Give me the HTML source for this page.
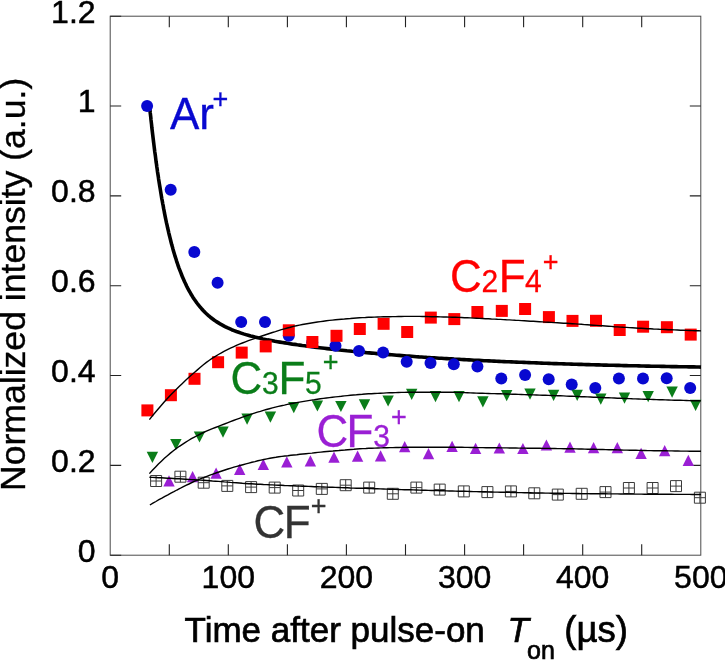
<!DOCTYPE html>
<html><head><meta charset="utf-8"><title>Normalized intensity vs time after pulse-on</title>
<style>html,body{margin:0;padding:0;background:#fff}svg{display:block}text{font-family:"Liberation Sans",Arial,Helvetica,sans-serif}</style></head><body>
<svg width="725" height="660" viewBox="0 0 725 660">
<rect width="725" height="660" fill="#fff"/>
<rect x="110.2" y="16.2" width="590.6" height="539.0" fill="none" stroke="#4a4a4a" stroke-width="1"/>
<g stroke="#222" stroke-width="1.1" fill="none">
<path d="M169.3,555.2v-11M169.3,16.2v11M228.3,555.2v-11M228.3,16.2v11M287.4,555.2v-11M287.4,16.2v11M346.4,555.2v-11M346.4,16.2v11M405.5,555.2v-11M405.5,16.2v11M464.6,555.2v-11M464.6,16.2v11M523.6,555.2v-11M523.6,16.2v11M582.7,555.2v-11M582.7,16.2v11M641.7,555.2v-11M641.7,16.2v11M110.2,465.4h11M700.8,465.4h-11M110.2,375.5h11M700.8,375.5h-11M110.2,285.7h11M700.8,285.7h-11M110.2,195.9h11M700.8,195.9h-11M110.2,106.0h11M700.8,106.0h-11M110.2,16.2h11M110.2,555.2h11"/>
</g>
<path d="M149.2,102.6 L149.5,105.1 L149.7,107.6 L150.0,110.0 L150.2,112.5 L150.5,115.0 L150.8,117.5 L151.0,119.9 L151.3,122.4 L151.6,124.9 L151.8,127.3 L152.1,129.8 L152.4,132.3 L152.7,134.8 L153.0,137.2 L153.3,139.7 L153.6,142.2 L153.9,144.6 L154.2,147.1 L154.5,149.5 L154.8,152.0 L155.2,154.5 L155.5,156.9 L155.8,159.4 L156.1,161.9 L156.5,164.3 L156.8,166.8 L157.2,169.2 L157.5,171.7 L157.9,174.1 L158.3,176.6 L158.6,179.0 L159.0,181.5 L159.4,184.0 L159.8,186.4 L160.2,188.8 L160.6,191.3 L161.0,193.7 L161.4,196.2 L161.8,198.6 L162.3,201.1 L162.7,203.5 L163.2,205.9 L163.6,208.4 L164.1,210.8 L164.5,213.2 L165.0,215.7 L165.5,218.1 L166.0,220.5 L166.5,222.9 L167.1,225.4 L167.6,227.8 L168.2,230.2 L168.7,232.6 L169.3,235.0 L169.9,237.4 L170.5,239.8 L171.1,242.2 L171.7,244.6 L172.4,246.9 L173.0,249.3 L173.7,251.7 L174.4,254.1 L175.1,256.4 L175.9,258.8 L176.6,261.1 L177.4,263.5 L178.2,265.8 L179.0,268.1 L179.9,270.4 L180.8,272.7 L181.7,275.0 L182.6,277.3 L183.6,279.5 L184.6,281.8 L185.7,284.0 L186.7,286.2 L187.8,288.4 L189.0,290.6 L190.2,292.7 L191.4,294.8 L192.7,296.9 L194.1,299.0 L195.5,301.0 L196.9,303.0 L198.4,304.9 L200.0,306.8 L201.6,308.7 L203.2,310.5 L204.9,312.3 L206.7,314.0 L208.5,315.6 L210.4,317.2 L212.4,318.7 L214.4,320.2 L216.4,321.6 L218.5,322.9 L220.6,324.2 L222.8,325.4 L225.0,326.6 L227.2,327.7 L229.5,328.7 L231.7,329.7 L234.0,330.6 L236.4,331.5 L238.7,332.3 L241.1,333.1 L243.5,333.9 L245.8,334.6 L248.2,335.3 L250.6,336.0 L253.1,336.6 L255.5,337.2 L257.9,337.8 L260.4,338.3 L262.8,338.9 L265.2,339.4 L267.7,339.9 L270.1,340.3 L272.6,340.8 L275.0,341.3 L277.5,341.7 L280.0,342.1 L282.4,342.5 L284.9,342.9 L287.4,343.3 L289.8,343.7 L292.3,344.1 L294.8,344.4 L297.3,344.8 L299.7,345.1 L302.2,345.5 L304.7,345.8 L307.2,346.2 L309.6,346.5 L312.1,346.8 L314.6,347.1 L317.1,347.4 L319.6,347.7 L322.0,348.0 L324.5,348.3 L327.0,348.6 L329.5,348.9 L332.0,349.2 L334.5,349.4 L337.0,349.7 L339.4,350.0 L341.9,350.2 L344.4,350.5 L346.9,350.8 L349.4,351.0 L351.9,351.3 L354.4,351.5 L356.8,351.7 L359.3,352.0 L361.8,352.2 L364.3,352.4 L366.8,352.7 L369.3,352.9 L371.8,353.1 L374.3,353.3 L376.8,353.6 L379.3,353.8 L381.7,354.0 L384.2,354.2 L386.7,354.4 L389.2,354.6 L391.7,354.8 L394.2,355.0 L396.7,355.2 L399.2,355.4 L401.7,355.6 L404.2,355.8 L406.7,356.0 L409.2,356.1 L411.6,356.3 L414.1,356.5 L416.6,356.7 L419.1,356.9 L421.6,357.0 L424.1,357.2 L426.6,357.4 L429.1,357.5 L431.6,357.7 L434.1,357.8 L436.6,358.0 L439.1,358.2 L441.6,358.3 L444.1,358.5 L446.6,358.6 L449.1,358.8 L451.6,358.9 L454.1,359.1 L456.6,359.2 L459.1,359.3 L461.5,359.5 L464.0,359.6 L466.5,359.8 L469.0,359.9 L471.5,360.0 L474.0,360.2 L476.5,360.3 L479.0,360.4 L481.5,360.5 L484.0,360.7 L486.5,360.8 L489.0,360.9 L491.5,361.0 L494.0,361.1 L496.5,361.3 L499.0,361.4 L501.5,361.5 L504.0,361.6 L506.5,361.7 L509.0,361.8 L511.5,361.9 L514.0,362.0 L516.5,362.1 L519.0,362.2 L521.5,362.3 L524.0,362.4 L526.5,362.5 L529.0,362.6 L531.5,362.7 L534.0,362.8 L536.5,362.9 L539.0,363.0 L541.5,363.1 L544.0,363.2 L546.5,363.3 L549.0,363.4 L551.5,363.5 L554.0,363.6 L556.5,363.6 L559.0,363.7 L561.5,363.8 L563.9,363.9 L566.4,364.0 L568.9,364.0 L571.4,364.1 L573.9,364.2 L576.4,364.3 L578.9,364.4 L581.4,364.4 L583.9,364.5 L586.4,364.6 L588.9,364.6 L591.4,364.7 L593.9,364.8 L596.4,364.9 L598.9,364.9 L601.4,365.0 L603.9,365.1 L606.4,365.1 L608.9,365.2 L611.4,365.3 L613.9,365.3 L616.4,365.4 L618.9,365.4 L621.4,365.5 L623.9,365.6 L626.4,365.6 L628.9,365.7 L631.4,365.7 L633.9,365.8 L636.4,365.8 L638.9,365.9 L641.4,366.0 L643.9,366.0 L646.4,366.1 L648.9,366.1 L651.4,366.2 L653.9,366.2 L656.4,366.3 L658.9,366.3 L661.4,366.4 L663.9,366.4 L666.4,366.5 L668.9,366.5 L671.4,366.6 L673.9,366.6 L676.4,366.6 L678.9,366.7 L681.4,366.7 L683.9,366.8 L686.4,366.8 L688.9,366.9 L691.4,366.9 L693.9,366.9 L696.4,367.0 L698.9,367.0 L701.0,367.1" fill="none" stroke="#000" stroke-width="3.6" stroke-linejoin="round"/>
<g fill="#0808d0">
<circle cx="147.1" cy="106.1" r="6"/>
<circle cx="170.7" cy="189.7" r="6"/>
<circle cx="194.3" cy="252" r="6"/>
<circle cx="217.6" cy="282.8" r="6"/>
<circle cx="241.2" cy="322.1" r="6"/>
<circle cx="265" cy="322.1" r="6"/>
<circle cx="288.8" cy="335.8" r="6"/>
<circle cx="312.2" cy="342.5" r="6"/>
<circle cx="335.5" cy="345.7" r="6"/>
<circle cx="359" cy="351.1" r="6"/>
<circle cx="383.1" cy="352.4" r="6"/>
<circle cx="406.7" cy="361.8" r="6"/>
<circle cx="430.5" cy="363" r="6"/>
<circle cx="453.8" cy="364.3" r="6"/>
<circle cx="477.4" cy="366.5" r="6"/>
<circle cx="501.3" cy="378.4" r="6"/>
<circle cx="525.1" cy="375" r="6"/>
<circle cx="548.7" cy="379.2" r="6"/>
<circle cx="571.7" cy="384.6" r="6"/>
<circle cx="595.3" cy="388" r="6"/>
<circle cx="618.9" cy="378.5" r="6"/>
<circle cx="643" cy="378.5" r="6"/>
<circle cx="666.7" cy="378.2" r="6"/>
<circle cx="690.2" cy="388" r="6"/>
</g>
<g fill="#ff0000">
<rect x="141.4" y="404.4" width="12" height="12"/>
<rect x="164.9" y="389.2" width="12" height="12"/>
<rect x="188.5" y="372.8" width="12" height="12"/>
<rect x="212.1" y="356.2" width="12" height="12"/>
<rect x="235.7" y="346.6" width="12" height="12"/>
<rect x="259.7" y="340.4" width="12" height="12"/>
<rect x="282.8" y="324.3" width="12" height="12"/>
<rect x="306.4" y="336.0" width="12" height="12"/>
<rect x="330.5" y="329.8" width="12" height="12"/>
<rect x="353.8" y="323.0" width="12" height="12"/>
<rect x="377.6" y="317.8" width="12" height="12"/>
<rect x="401.2" y="326.0" width="12" height="12"/>
<rect x="424.8" y="311.6" width="12" height="12"/>
<rect x="448.3" y="313.1" width="12" height="12"/>
<rect x="471.4" y="306.0" width="12" height="12"/>
<rect x="495.8" y="304.9" width="12" height="12"/>
<rect x="519.1" y="303.0" width="12" height="12"/>
<rect x="542.9" y="311.1" width="12" height="12"/>
<rect x="566.5" y="314.9" width="12" height="12"/>
<rect x="590.0" y="314.8" width="12" height="12"/>
<rect x="613.7" y="324.0" width="12" height="12"/>
<rect x="637.1" y="320.7" width="12" height="12"/>
<rect x="660.9" y="321.2" width="12" height="12"/>
<rect x="684.7" y="328.6" width="12" height="12"/>
</g>
<g fill="#0a7d19">
<path d="M146.7,451.7h11.4l-5.7,11.2z"/>
<path d="M170.2,438.9h11.4l-5.7,11.2z"/>
<path d="M193.8,431.4h11.4l-5.7,11.2z"/>
<path d="M217.3,426.5h11.4l-5.7,11.2z"/>
<path d="M241.4,413.5h11.4l-5.7,11.2z"/>
<path d="M264.7,411.5h11.4l-5.7,11.2z"/>
<path d="M288.1,402.1h11.4l-5.7,11.2z"/>
<path d="M311.7,400.4h11.4l-5.7,11.2z"/>
<path d="M335.2,400.9h11.4l-5.7,11.2z"/>
<path d="M358.8,399.2h11.4l-5.7,11.2z"/>
<path d="M382.4,395.4h11.4l-5.7,11.2z"/>
<path d="M406.0,388.7h11.4l-5.7,11.2z"/>
<path d="M429.8,391.0h11.4l-5.7,11.2z"/>
<path d="M453.3,391.0h11.4l-5.7,11.2z"/>
<path d="M477.2,396.2h11.4l-5.7,11.2z"/>
<path d="M501.0,390.0h11.4l-5.7,11.2z"/>
<path d="M524.3,388.5h11.4l-5.7,11.2z"/>
<path d="M547.9,389.7h11.4l-5.7,11.2z"/>
<path d="M571.5,389.7h11.4l-5.7,11.2z"/>
<path d="M595.1,393.5h11.4l-5.7,11.2z"/>
<path d="M618.8,392.5h11.4l-5.7,11.2z"/>
<path d="M642.5,391.0h11.4l-5.7,11.2z"/>
<path d="M666.4,386.6h11.4l-5.7,11.2z"/>
<path d="M689.9,399.7h11.4l-5.7,11.2z"/>
</g>
<g fill="#9a1fd4">
<path d="M163.3,486.5h11.4l-5.7,-11.2z"/>
<path d="M186.9,482.3h11.4l-5.7,-11.2z"/>
<path d="M210.4,478.7h11.4l-5.7,-11.2z"/>
<path d="M234.0,475.0h11.4l-5.7,-11.2z"/>
<path d="M257.6,470.0h11.4l-5.7,-11.2z"/>
<path d="M281.1,467.5h11.4l-5.7,-11.2z"/>
<path d="M304.7,466.5h11.4l-5.7,-11.2z"/>
<path d="M328.3,462.8h11.4l-5.7,-11.2z"/>
<path d="M351.9,461.8h11.4l-5.7,-11.2z"/>
<path d="M374.9,461.5h11.4l-5.7,-11.2z"/>
<path d="M399.0,452.3h11.4l-5.7,-11.2z"/>
<path d="M422.8,459.3h11.4l-5.7,-11.2z"/>
<path d="M446.4,451.9h11.4l-5.7,-11.2z"/>
<path d="M469.9,454.0h11.4l-5.7,-11.2z"/>
<path d="M493.6,453.6h11.4l-5.7,-11.2z"/>
<path d="M517.2,454.1h11.4l-5.7,-11.2z"/>
<path d="M540.7,450.6h11.4l-5.7,-11.2z"/>
<path d="M564.3,452.8h11.4l-5.7,-11.2z"/>
<path d="M587.9,453.2h11.4l-5.7,-11.2z"/>
<path d="M611.6,453.3h11.4l-5.7,-11.2z"/>
<path d="M635.4,459.0h11.4l-5.7,-11.2z"/>
<path d="M659.0,456.2h11.4l-5.7,-11.2z"/>
<path d="M682.6,465.9h11.4l-5.7,-11.2z"/>
</g>
<g fill="none" stroke="#3a3a3a" stroke-width="1">
<path d="M150.6,475.5h11v11h-11zM156.1,475.5v11M150.6,481.0h11"/>
<path d="M174.9,471.2h11v11h-11zM180.4,471.2v11M174.9,476.7h11"/>
<path d="M198.2,477.2h11v11h-11zM203.7,477.2v11M198.2,482.7h11"/>
<path d="M221.8,480.4h11v11h-11zM227.3,480.4v11M221.8,485.9h11"/>
<path d="M245.6,481.6h11v11h-11zM251.1,481.6v11M245.6,487.1h11"/>
<path d="M269.2,482.1h11v11h-11zM274.7,482.1v11M269.2,487.6h11"/>
<path d="M292.7,485.0h11v11h-11zM298.2,485.0v11M292.7,490.5h11"/>
<path d="M316.3,483.4h11v11h-11zM321.8,483.4v11M316.3,488.9h11"/>
<path d="M340.2,479.7h11v11h-11zM345.7,479.7v11M340.2,485.2h11"/>
<path d="M363.7,482.1h11v11h-11zM369.2,482.1v11M363.7,487.6h11"/>
<path d="M387.3,488.3h11v11h-11zM392.8,488.3v11M387.3,493.8h11"/>
<path d="M410.9,482.1h11v11h-11zM416.4,482.1v11M410.9,487.6h11"/>
<path d="M434.2,484.1h11v11h-11zM439.7,484.1v11M434.2,489.6h11"/>
<path d="M458.3,485.9h11v11h-11zM463.8,485.9v11M458.3,491.4h11"/>
<path d="M481.9,486.6h11v11h-11zM487.4,486.6v11M481.9,492.1h11"/>
<path d="M505.4,485.9h11v11h-11zM510.9,485.9v11M505.4,491.4h11"/>
<path d="M528.8,487.8h11v11h-11zM534.3,487.8v11M528.8,493.3h11"/>
<path d="M552.3,489.1h11v11h-11zM557.8,489.1v11M552.3,494.6h11"/>
<path d="M576.2,488.3h11v11h-11zM581.7,488.3v11M576.2,493.8h11"/>
<path d="M600.0,486.6h11v11h-11zM605.5,486.6v11M600.0,492.1h11"/>
<path d="M623.4,482.5h11v11h-11zM628.9,482.5v11M623.4,488.0h11"/>
<path d="M647.1,482.5h11v11h-11zM652.6,482.5v11M647.1,488.0h11"/>
<path d="M670.5,480.6h11v11h-11zM676.0,480.6v11M670.5,486.1h11"/>
<path d="M694.4,492.2h11v11h-11zM699.9,492.2v11M694.4,497.7h11"/>
</g>
<g fill="none" stroke="#000" stroke-width="1.4">
<path d="M149.4,419.6 L152.4,415.9 L155.4,412.2 L158.4,408.7 L161.4,405.2 L164.4,401.8 L167.4,398.5 L170.4,395.3 L173.4,392.2 L176.4,389.2 L179.4,386.2 L182.4,383.4 L185.4,380.5 L188.4,377.8 L191.4,375.1 L194.4,372.5 L197.4,369.9 L200.4,367.3 L203.4,364.8 L206.4,362.4 L209.4,360.2 L212.4,358.2 L215.4,356.3 L218.4,354.5 L221.4,352.8 L224.4,351.2 L227.4,349.6 L230.4,348.2 L233.4,346.8 L236.4,345.4 L239.4,344.2 L242.4,343.0 L245.4,341.8 L248.4,340.7 L251.4,339.6 L254.4,338.6 L257.4,337.5 L260.4,336.5 L263.4,335.5 L266.4,334.5 L269.4,333.5 L272.4,332.5 L275.4,331.6 L278.4,330.6 L281.4,329.7 L284.4,328.8 L287.4,328.0 L290.4,327.2 L293.4,326.4 L296.4,325.7 L299.4,325.1 L302.4,324.5 L305.4,324.0 L308.4,323.5 L311.4,323.0 L314.4,322.5 L317.4,322.0 L320.4,321.6 L323.4,321.2 L326.4,320.8 L329.4,320.4 L332.4,320.1 L335.4,319.8 L338.4,319.5 L341.4,319.2 L344.4,319.0 L347.4,318.7 L350.4,318.5 L353.4,318.2 L356.4,318.0 L359.4,317.8 L362.4,317.6 L365.4,317.5 L368.4,317.3 L371.4,317.2 L374.4,317.1 L377.4,317.0 L380.4,316.9 L383.4,316.8 L386.4,316.8 L389.4,316.7 L392.4,316.6 L395.4,316.6 L398.4,316.5 L401.4,316.5 L404.4,316.4 L407.4,316.4 L410.4,316.4 L413.4,316.4 L416.4,316.4 L419.4,316.4 L422.4,316.5 L425.4,316.5 L428.4,316.6 L431.4,316.7 L434.4,316.7 L437.4,316.8 L440.4,316.9 L443.4,317.0 L446.4,317.0 L449.4,317.1 L452.4,317.2 L455.4,317.3 L458.4,317.4 L461.4,317.5 L464.4,317.7 L467.4,317.8 L470.4,317.9 L473.4,318.1 L476.4,318.2 L479.4,318.4 L482.4,318.5 L485.4,318.7 L488.4,318.8 L491.4,319.0 L494.4,319.1 L497.4,319.3 L500.4,319.4 L503.4,319.6 L506.4,319.8 L509.4,319.9 L512.4,320.1 L515.4,320.3 L518.4,320.4 L521.4,320.6 L524.4,320.8 L527.4,321.0 L530.4,321.2 L533.4,321.3 L536.4,321.5 L539.4,321.7 L542.4,321.9 L545.4,322.1 L548.4,322.2 L551.4,322.4 L554.4,322.6 L557.4,322.8 L560.4,323.0 L563.4,323.2 L566.4,323.3 L569.4,323.5 L572.4,323.7 L575.4,323.9 L578.4,324.1 L581.4,324.3 L584.4,324.6 L587.4,324.8 L590.4,325.0 L593.4,325.2 L596.4,325.4 L599.4,325.6 L602.4,325.8 L605.4,326.0 L608.4,326.2 L611.4,326.4 L614.4,326.7 L617.4,326.9 L620.4,327.1 L623.4,327.3 L626.4,327.4 L629.4,327.6 L632.4,327.8 L635.4,328.0 L638.4,328.2 L641.4,328.3 L644.4,328.5 L647.4,328.7 L650.4,328.8 L653.4,329.0 L656.4,329.1 L659.4,329.3 L662.4,329.4 L665.4,329.5 L668.4,329.7 L671.4,329.8 L674.4,329.9 L677.4,330.0 L680.4,330.2 L683.4,330.3 L686.4,330.4 L689.4,330.5 L692.4,330.6 L695.4,330.7 L698.4,330.8 L701.0,330.9"/>
<path d="M149.4,473.6 L152.4,470.3 L155.4,467.2 L158.4,464.1 L161.4,461.2 L164.4,458.3 L167.4,455.7 L170.4,453.1 L173.4,450.7 L176.4,448.4 L179.4,446.3 L182.4,444.3 L185.4,442.3 L188.4,440.5 L191.4,438.7 L194.4,437.1 L197.4,435.5 L200.4,434.0 L203.4,432.5 L206.4,431.2 L209.4,429.9 L212.4,428.7 L215.4,427.5 L218.4,426.3 L221.4,425.1 L224.4,424.0 L227.4,422.8 L230.4,421.6 L233.4,420.5 L236.4,419.4 L239.4,418.3 L242.4,417.2 L245.4,416.2 L248.4,415.2 L251.4,414.2 L254.4,413.2 L257.4,412.2 L260.4,411.3 L263.4,410.3 L266.4,409.5 L269.4,408.7 L272.4,407.9 L275.4,407.1 L278.4,406.4 L281.4,405.7 L284.4,405.1 L287.4,404.4 L290.4,403.8 L293.4,403.2 L296.4,402.6 L299.4,402.1 L302.4,401.6 L305.4,401.1 L308.4,400.6 L311.4,400.1 L314.4,399.7 L317.4,399.2 L320.4,398.8 L323.4,398.4 L326.4,398.0 L329.4,397.6 L332.4,397.2 L335.4,396.9 L338.4,396.6 L341.4,396.3 L344.4,395.9 L347.4,395.6 L350.4,395.3 L353.4,395.0 L356.4,394.8 L359.4,394.5 L362.4,394.3 L365.4,394.0 L368.4,393.8 L371.4,393.7 L374.4,393.5 L377.4,393.4 L380.4,393.2 L383.4,393.1 L386.4,392.9 L389.4,392.8 L392.4,392.7 L395.4,392.6 L398.4,392.5 L401.4,392.4 L404.4,392.4 L407.4,392.3 L410.4,392.3 L413.4,392.3 L416.4,392.3 L419.4,392.3 L422.4,392.3 L425.4,392.3 L428.4,392.3 L431.4,392.3 L434.4,392.3 L437.4,392.3 L440.4,392.3 L443.4,392.3 L446.4,392.3 L449.4,392.3 L452.4,392.3 L455.4,392.4 L458.4,392.4 L461.4,392.5 L464.4,392.6 L467.4,392.7 L470.4,392.9 L473.4,393.0 L476.4,393.1 L479.4,393.2 L482.4,393.3 L485.4,393.4 L488.4,393.5 L491.4,393.6 L494.4,393.6 L497.4,393.7 L500.4,393.8 L503.4,393.9 L506.4,394.0 L509.4,394.1 L512.4,394.2 L515.4,394.3 L518.4,394.4 L521.4,394.5 L524.4,394.6 L527.4,394.7 L530.4,394.8 L533.4,394.9 L536.4,395.0 L539.4,395.1 L542.4,395.2 L545.4,395.3 L548.4,395.4 L551.4,395.5 L554.4,395.6 L557.4,395.7 L560.4,395.8 L563.4,395.9 L566.4,396.1 L569.4,396.2 L572.4,396.3 L575.4,396.4 L578.4,396.5 L581.4,396.7 L584.4,396.8 L587.4,396.9 L590.4,397.0 L593.4,397.2 L596.4,397.3 L599.4,397.4 L602.4,397.5 L605.4,397.7 L608.4,397.8 L611.4,397.9 L614.4,398.0 L617.4,398.2 L620.4,398.3 L623.4,398.4 L626.4,398.5 L629.4,398.6 L632.4,398.8 L635.4,398.9 L638.4,399.0 L641.4,399.1 L644.4,399.2 L647.4,399.3 L650.4,399.4 L653.4,399.5 L656.4,399.6 L659.4,399.7 L662.4,399.8 L665.4,399.9 L668.4,400.0 L671.4,400.1 L674.4,400.2 L677.4,400.3 L680.4,400.3 L683.4,400.4 L686.4,400.5 L689.4,400.6 L692.4,400.7 L695.4,400.8 L698.4,400.8 L701.0,400.9"/>
<path d="M149.9,505.0 L152.9,503.2 L155.9,501.5 L158.9,499.7 L161.9,498.1 L164.9,496.4 L167.9,494.8 L170.9,493.1 L173.9,491.6 L176.9,490.0 L179.9,488.5 L182.9,486.9 L185.9,485.4 L188.9,484.0 L191.9,482.5 L194.9,481.2 L197.9,479.9 L200.9,478.6 L203.9,477.5 L206.9,476.3 L209.9,475.2 L212.9,474.1 L215.9,473.0 L218.9,472.0 L221.9,471.0 L224.9,470.0 L227.9,469.0 L230.9,468.1 L233.9,467.2 L236.9,466.3 L239.9,465.5 L242.9,464.7 L245.9,463.9 L248.9,463.1 L251.9,462.3 L254.9,461.6 L257.9,460.8 L260.9,460.1 L263.9,459.5 L266.9,458.9 L269.9,458.3 L272.9,457.7 L275.9,457.3 L278.9,456.8 L281.9,456.4 L284.9,456.0 L287.9,455.7 L290.9,455.3 L293.9,455.0 L296.9,454.7 L299.9,454.3 L302.9,454.0 L305.9,453.7 L308.9,453.4 L311.9,453.1 L314.9,452.7 L317.9,452.4 L320.9,452.1 L323.9,451.8 L326.9,451.5 L329.9,451.2 L332.9,451.0 L335.9,450.7 L338.9,450.5 L341.9,450.2 L344.9,450.0 L347.9,449.7 L350.9,449.5 L353.9,449.3 L356.9,449.0 L359.9,448.8 L362.9,448.6 L365.9,448.5 L368.9,448.3 L371.9,448.2 L374.9,448.1 L377.9,448.0 L380.9,447.9 L383.9,447.8 L386.9,447.7 L389.9,447.6 L392.9,447.6 L395.9,447.5 L398.9,447.5 L401.9,447.4 L404.9,447.4 L407.9,447.3 L410.9,447.3 L413.9,447.3 L416.9,447.3 L419.9,447.3 L422.9,447.3 L425.9,447.2 L428.9,447.2 L431.9,447.2 L434.9,447.2 L437.9,447.2 L440.9,447.2 L443.9,447.2 L446.9,447.2 L449.9,447.2 L452.9,447.2 L455.9,447.2 L458.9,447.3 L461.9,447.3 L464.9,447.4 L467.9,447.4 L470.9,447.5 L473.9,447.5 L476.9,447.6 L479.9,447.6 L482.9,447.6 L485.9,447.7 L488.9,447.7 L491.9,447.7 L494.9,447.8 L497.9,447.8 L500.9,447.9 L503.9,447.9 L506.9,447.9 L509.9,448.0 L512.9,448.0 L515.9,448.0 L518.9,448.1 L521.9,448.1 L524.9,448.1 L527.9,448.2 L530.9,448.2 L533.9,448.2 L536.9,448.3 L539.9,448.3 L542.9,448.4 L545.9,448.4 L548.9,448.4 L551.9,448.5 L554.9,448.5 L557.9,448.6 L560.9,448.6 L563.9,448.7 L566.9,448.7 L569.9,448.8 L572.9,448.8 L575.9,448.9 L578.9,449.0 L581.9,449.0 L584.9,449.1 L587.9,449.2 L590.9,449.3 L593.9,449.3 L596.9,449.4 L599.9,449.5 L602.9,449.5 L605.9,449.6 L608.9,449.7 L611.9,449.8 L614.9,449.8 L617.9,449.9 L620.9,450.0 L623.9,450.1 L626.9,450.1 L629.9,450.2 L632.9,450.3 L635.9,450.3 L638.9,450.4 L641.9,450.5 L644.9,450.5 L647.9,450.6 L650.9,450.6 L653.9,450.7 L656.9,450.7 L659.9,450.8 L662.9,450.8 L665.9,450.8 L668.9,450.9 L671.9,450.9 L674.9,451.0 L677.9,451.0 L680.9,451.1 L683.9,451.1 L686.9,451.1 L689.9,451.2 L692.9,451.2 L695.9,451.2 L698.9,451.3 L701.0,451.3"/>
<path d="M149.4,477.2 L152.4,477.4 L155.4,477.5 L158.4,477.7 L161.4,477.8 L164.4,478.0 L167.4,478.2 L170.4,478.3 L173.4,478.5 L176.4,478.7 L179.4,478.8 L182.4,479.0 L185.4,479.2 L188.4,479.4 L191.4,479.6 L194.4,479.8 L197.4,480.0 L200.4,480.1 L203.4,480.3 L206.4,480.5 L209.4,480.7 L212.4,481.0 L215.4,481.2 L218.4,481.4 L221.4,481.6 L224.4,481.9 L227.4,482.1 L230.4,482.4 L233.4,482.6 L236.4,482.8 L239.4,483.0 L242.4,483.3 L245.4,483.5 L248.4,483.7 L251.4,483.8 L254.4,484.0 L257.4,484.2 L260.4,484.3 L263.4,484.5 L266.4,484.6 L269.4,484.8 L272.4,484.9 L275.4,485.1 L278.4,485.2 L281.4,485.3 L284.4,485.5 L287.4,485.6 L290.4,485.7 L293.4,485.8 L296.4,486.0 L299.4,486.1 L302.4,486.2 L305.4,486.3 L308.4,486.4 L311.4,486.5 L314.4,486.7 L317.4,486.8 L320.4,486.9 L323.4,487.0 L326.4,487.1 L329.4,487.2 L332.4,487.3 L335.4,487.4 L338.4,487.5 L341.4,487.6 L344.4,487.7 L347.4,487.8 L350.4,488.0 L353.4,488.1 L356.4,488.2 L359.4,488.2 L362.4,488.3 L365.4,488.4 L368.4,488.5 L371.4,488.6 L374.4,488.7 L377.4,488.8 L380.4,488.9 L383.4,489.0 L386.4,489.1 L389.4,489.2 L392.4,489.3 L395.4,489.4 L398.4,489.5 L401.4,489.6 L404.4,489.7 L407.4,489.8 L410.4,489.8 L413.4,489.9 L416.4,490.0 L419.4,490.1 L422.4,490.2 L425.4,490.3 L428.4,490.4 L431.4,490.5 L434.4,490.5 L437.4,490.6 L440.4,490.7 L443.4,490.8 L446.4,490.9 L449.4,491.0 L452.4,491.0 L455.4,491.1 L458.4,491.2 L461.4,491.3 L464.4,491.3 L467.4,491.4 L470.4,491.5 L473.4,491.6 L476.4,491.6 L479.4,491.7 L482.4,491.8 L485.4,491.8 L488.4,491.9 L491.4,492.0 L494.4,492.1 L497.4,492.1 L500.4,492.2 L503.4,492.3 L506.4,492.3 L509.4,492.4 L512.4,492.5 L515.4,492.5 L518.4,492.6 L521.4,492.6 L524.4,492.7 L527.4,492.8 L530.4,492.8 L533.4,492.9 L536.4,492.9 L539.4,493.0 L542.4,493.0 L545.4,493.1 L548.4,493.1 L551.4,493.2 L554.4,493.2 L557.4,493.3 L560.4,493.3 L563.4,493.4 L566.4,493.4 L569.4,493.4 L572.4,493.5 L575.4,493.5 L578.4,493.5 L581.4,493.6 L584.4,493.6 L587.4,493.6 L590.4,493.7 L593.4,493.7 L596.4,493.7 L599.4,493.8 L602.4,493.8 L605.4,493.8 L608.4,493.9 L611.4,493.9 L614.4,493.9 L617.4,493.9 L620.4,494.0 L623.4,494.0 L626.4,494.0 L629.4,494.0 L632.4,494.1 L635.4,494.1 L638.4,494.1 L641.4,494.1 L644.4,494.2 L647.4,494.2 L650.4,494.2 L653.4,494.2 L656.4,494.2 L659.4,494.3 L662.4,494.3 L665.4,494.3 L668.4,494.3 L671.4,494.3 L674.4,494.4 L677.4,494.4 L680.4,494.4 L683.4,494.4 L686.4,494.4 L689.4,494.4 L692.4,494.5 L695.4,494.5 L698.4,494.5 L701.0,494.5"/>
</g>
<g font-size="32" fill="#000" stroke="#000" stroke-width="0.5">
<text x="95.6" y="561.5" text-anchor="end">0</text>
<text x="95.6" y="471.7" text-anchor="end">0.2</text>
<text x="95.6" y="381.8" text-anchor="end">0.4</text>
<text x="95.6" y="292.0" text-anchor="end">0.6</text>
<text x="95.6" y="202.2" text-anchor="end">0.8</text>
<text x="95.6" y="112.3" text-anchor="end">1</text>
<text x="95.6" y="22.5" text-anchor="end">1.2</text>
<text x="110.2" y="588.2" text-anchor="middle">0</text>
<text x="228.3" y="588.2" text-anchor="middle">100</text>
<text x="346.4" y="588.2" text-anchor="middle">200</text>
<text x="464.6" y="588.2" text-anchor="middle">300</text>
<text x="582.7" y="588.2" text-anchor="middle">400</text>
<text x="700.8" y="588.2" text-anchor="middle">500</text>
</g>
<g fill="#000" stroke="#000" stroke-width="0.7">
<text x="184.6" y="642" font-size="35">Time after pulse-on</text>
<text x="507.6" y="641.8" font-size="35" font-style="italic">T</text>
<text x="527" y="659" font-size="25">on</text>
<text x="564.3" y="642" font-size="36.5">(µs)</text>
<text transform="translate(25.4,491.0) rotate(-90)" font-size="35.6" stroke-width="0.35">Normalized intensity (a.u.)</text>
</g>
<text fill="#0808d0" stroke="#0808d0" stroke-width="0.3" transform="scale(1,1.0)"><tspan x="169.9" y="128.80" font-size="44">Ar</tspan><tspan x="212.6" y="108.20" font-size="27">+</tspan></text>
<text fill="#ff0000" stroke="#ff0000" stroke-width="0.3" transform="scale(1,1.03)"><tspan x="449.9" y="283.98" font-size="44">C</tspan><tspan x="481.5" y="283.98" font-size="30">2</tspan><tspan x="498.8" y="283.98" font-size="44">F</tspan><tspan x="525" y="283.98" font-size="30">4</tspan><tspan x="542.8" y="263.11" font-size="27">+</tspan></text>
<text fill="#0a7d19" stroke="#0a7d19" stroke-width="0.3" transform="scale(1,1.03)"><tspan x="230.4" y="382.82" font-size="44">C</tspan><tspan x="262" y="382.82" font-size="30">3</tspan><tspan x="278.6" y="382.82" font-size="44">F</tspan><tspan x="305" y="382.82" font-size="30">5</tspan><tspan x="322.7" y="360.39" font-size="27">+</tspan></text>
<text fill="#9a1fd4" stroke="#9a1fd4" stroke-width="0.3" transform="scale(1,1.03)"><tspan x="316.4" y="433.79" font-size="44">C</tspan><tspan x="346.5" y="433.79" font-size="44">F</tspan><tspan x="373.3" y="433.79" font-size="30">3</tspan><tspan x="390.9" y="413.20" font-size="27">+</tspan></text>
<text fill="#333" stroke="#333" stroke-width="0.3" transform="scale(1,1.03)"><tspan x="253.6" y="521.94" font-size="44">C</tspan><tspan x="283.7" y="521.94" font-size="44">F</tspan><tspan x="310.7" y="500.29" font-size="27">+</tspan></text>
</svg></body></html>
